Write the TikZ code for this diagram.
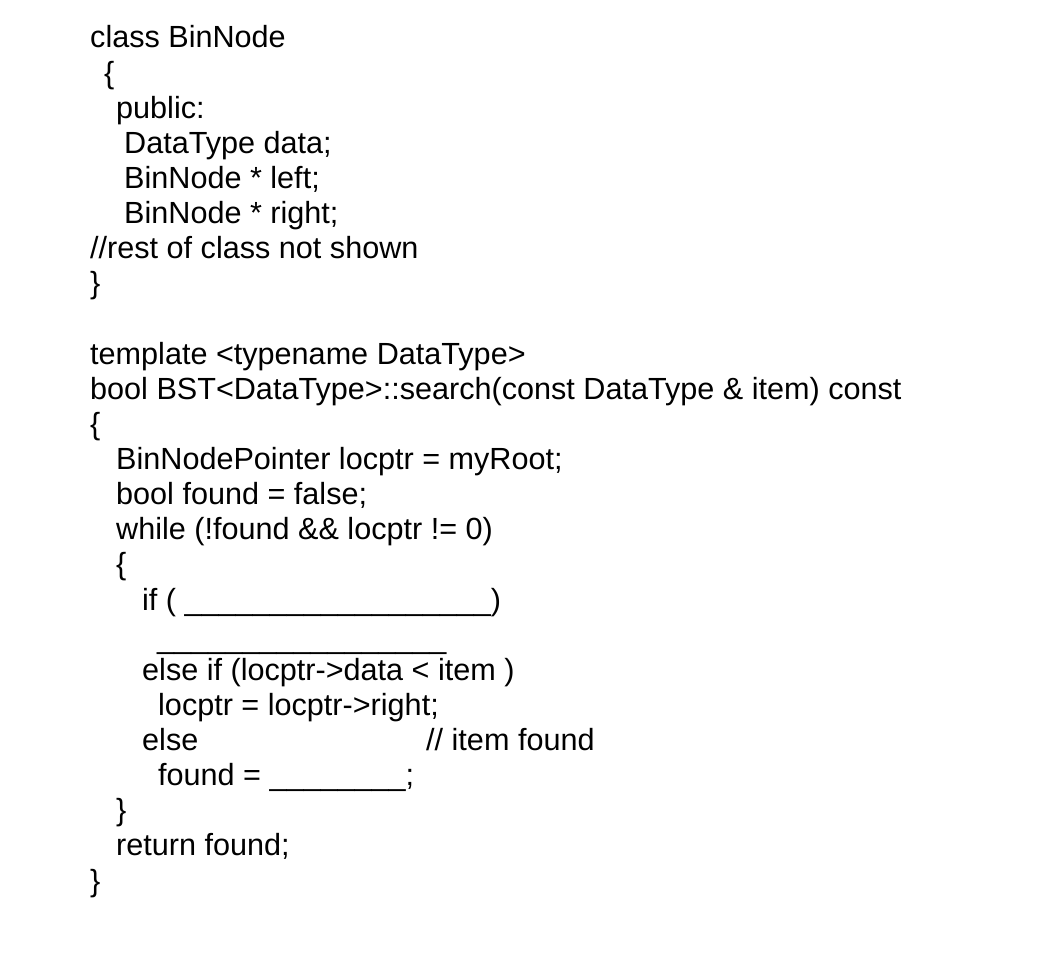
\documentclass[tikz,border=0pt]{standalone}
\usepackage{fontspec}
\setmainfont{Liberation Sans}
\usepackage{xcolor}
\usepackage{tikz}
\definecolor{ink}{HTML}{000000}
\tikzset{
  code/.style={anchor=base west, inner sep=0pt, text=ink, font=\fontsize{30.6}{35}\selectfont},
}

\begin{document}
\begin{tikzpicture}[x=1pt,y=-1pt]
  \useasboundingbox[fill=white] (0,0) rectangle (1044,960);
  \def\ls{35.13}
  \def\yo{48}
  % class declaration
  \node[code] (cls)    at (90, {\yo+0*\ls})  {class BinNode};
  \node[code] (clsL)   at (104,{\yo+1*\ls})  {\{};
  \node[code] (pub)    at (116,{\yo+2*\ls})  {public:};
  \node[code] (dat)    at (124,{\yo+3*\ls})  {DataType data;};
  \node[code] (lft)    at (124,{\yo+4*\ls})  {BinNode * left;};
  \node[code] (rgt)    at (124,{\yo+5*\ls})  {BinNode * right;};
  \node[code] (rest)   at (90, {\yo+6*\ls})  {//rest of class not shown};
  \node[code] (clsR)   at (90, {\yo+7*\ls})  {\}};
  % search function
  \node[code] (tmpl)   at (90, {\yo+9*\ls})  {template <typename DataType>};
  \node[code] (head)   at (90, {\yo+10*\ls}) {bool BST<DataType>::search(const DataType \& item) const};
  \node[code] (fnL)    at (90, {\yo+11*\ls}) {\{};
  \node[code] (ptr)    at (116,{\yo+12*\ls}) {BinNodePointer locptr = myRoot;};
  \node[code] (fnd)    at (116,{\yo+13*\ls}) {bool found = false;};
  \node[code] (loop)   at (116,{\yo+14*\ls}) {while (!found \&\& locptr != 0)};
  \node[code] (loopL)  at (116,{\yo+15*\ls}) {\{};
  \node[code] (ifc)    at (142,{\yo+16*\ls}) {if ( \_\_\_\_\_\_\_\_\_\_\_\_\_\_\_\_\_\_)};
  \node[code] (blank)  at (157,{\yo+17*\ls+3}) {\_\_\_\_\_\_\_\_\_\_\_\_\_\_\_\_\_};
  \node[code] (elif)   at (142,{\yo+18*\ls}) {else if (locptr->data < item )};
  \node[code] (move)   at (158,{\yo+19*\ls}) {locptr = locptr->right;};
  \node[code] (els)    at (142,{\yo+20*\ls}) {else};
  \node[code] (cmt)    at (426,{\yo+20*\ls}) {// item found};
  \node[code] (set)    at (158,{\yo+21*\ls}) {found = \_\_\_\_\_\_\_\_;};
  \node[code] (loopR)  at (116,{\yo+22*\ls}) {\}};
  \node[code] (ret)    at (116,{\yo+23*\ls}) {return found;};
  \node[code] (fnR)    at (90, {\yo+24*\ls}) {\}};
\end{tikzpicture}
\end{document}
